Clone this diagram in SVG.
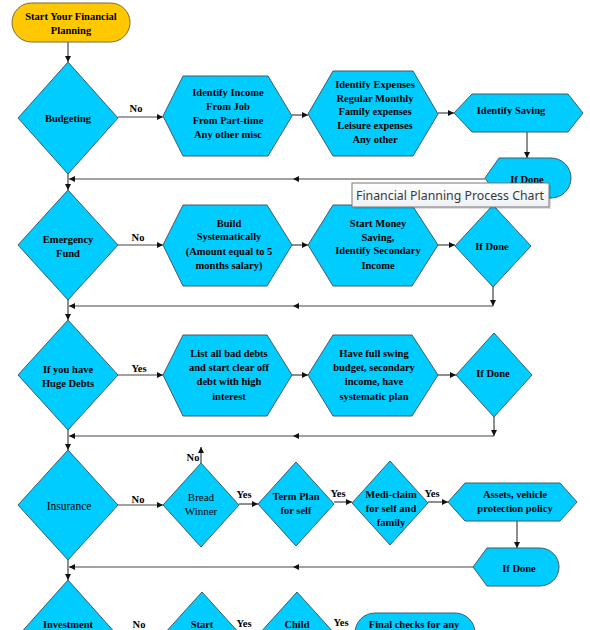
<svg xmlns="http://www.w3.org/2000/svg" width="590" height="630" viewBox="0 0 590 630">
<defs>
<marker id="ah" viewBox="0 0 10 10" refX="10" refY="5" markerWidth="6" markerHeight="6" orient="auto" markerUnits="userSpaceOnUse">
<path d="M0,0 L10,5 L0,10 Z" fill="#111"/>
</marker>
<linearGradient id="tipg" x1="0" y1="0" x2="0" y2="1">
<stop offset="0" stop-color="#ffffff"/>
<stop offset="1" stop-color="#eef0f4"/>
</linearGradient>
</defs>
<style>
.n{fill:#00CCFF;stroke:#3f5d68;stroke-width:1}
.st{fill:#FFC800;stroke:#7a6a3a;stroke-width:1}
.c{fill:none;stroke:#444;stroke-width:1.2}
.a{marker-end:url(#ah)}
.m{marker-mid:url(#ah);marker-end:url(#ah)}
text{font-family:"Liberation Serif","Times New Roman",serif;font-size:10.5px;font-weight:bold;fill:#000;text-anchor:middle}
.r{font-weight:normal;font-size:11px}
.tip{font-family:"Noto Sans","Open Sans","DejaVu Sans",sans-serif;font-size:13px;font-weight:normal;fill:#3a3a3a;text-anchor:start}
</style>
<rect width="590" height="630" fill="#fff"/>

<g id="connectors">
<path class="c a" d="M68,42 L68,62"/>
<path class="c a" d="M118,117 L163,117"/>
<path class="c a" d="M292,115 L308,115"/>
<path class="c a" d="M438,113 L454,113"/>
<path class="c a" d="M527,132 L527,158"/>
<path class="c m" d="M485,179 L293,179 L69,179"/>
<path class="c a" d="M68,174 L68,190"/>
<path class="c a" d="M118,245 L163,245"/>
<path class="c a" d="M292,245 L308,245"/>
<path class="c a" d="M438,245 L455,245"/>
<path class="c a" d="M493,287 L493,306"/>
<path class="c m" d="M493,306 L293,306 L69,306"/>
<path class="c a" d="M68,300 L68,320"/>
<path class="c a" d="M118,375 L163,375"/>
<path class="c a" d="M292,375 L308,375"/>
<path class="c a" d="M438,375 L456,375"/>
<path class="c a" d="M494,417 L494,436"/>
<path class="c m" d="M494,436 L293,436 L69,436"/>
<path class="c a" d="M68,430 L68,450"/>
<path class="c a" d="M118,505 L163,505"/>
<path class="c a" d="M201,463 L201,447"/>
<path class="c a" d="M239,504 L258,504"/>
<path class="c a" d="M334,502 L352,502"/>
<path class="c a" d="M428,502 L448,502"/>
<path class="c a" d="M517,521 L517,548"/>
<path class="c m" d="M473,567 L293,567 L69,567"/>
<path class="c a" d="M68,560 L68,580"/>
<path class="c a" d="M118,636 L164,636"/>
<path class="c a" d="M240,634 L259,634"/>
<path class="c a" d="M335,634 L355,634"/>
</g>

<g id="labels">
<text x="136" y="112">No</text>
<text x="138" y="241">No</text>
<text x="139" y="372">Yes</text>
<text x="138" y="503">No</text>
<text x="193" y="461">No</text>
<text x="244" y="498">Yes</text>
<text x="338" y="497">Yes</text>
<text x="432" y="497">Yes</text>
<text x="139" y="628">No</text>
<text x="244" y="627">Yes</text>
<text x="341" y="626">Yes</text>
</g>

<g id="start">
<rect class="st" x="12" y="3" width="118" height="39" rx="19.5"/>
<text x="71" y="20">Start Your Financial</text>
<text x="71" y="34">Planning</text>
</g>

<g id="budgeting">
<polygon class="n" points="68,62 118,118 68,174 18,118"/>
<text x="68" y="122">Budgeting</text>
</g>
<g id="income">
<polygon class="n" points="163,116 183,76 268,76 292,116 268,156 183,156"/>
<text x="228" y="96">Identify Income</text>
<text x="228" y="110">From Job</text>
<text x="228" y="124">From Part-time</text>
<text x="228" y="138">Any other misc</text>
</g>
<g id="expenses">
<polygon class="n" points="308,114 333,71 413,71 438,114 413,156 333,156"/>
<text x="375" y="88">Identify Expenses</text>
<text x="375" y="102">Regular Monthly</text>
<text x="375" y="115">Family expenses</text>
<text x="375" y="129">Leisure expenses</text>
<text x="375" y="143">Any other</text>
</g>
<g id="saving">
<polygon class="n" points="454,113 472,94 568,94 583,113 568,132 472,132"/>
<text x="511" y="114">Identify Saving</text>
</g>
<g id="done1">
<path class="n" d="M485,178 L499,158 L551,158 A20,20 0 0 1 551,198 L499,198 Z"/>
<text x="527" y="183">If Done</text>
</g>

<g id="emergency">
<polygon class="n" points="68,190 118,245 68,300 18,245"/>
<text x="68" y="243">Emergency</text>
<text x="68" y="257">Fund</text>
</g>
<g id="build">
<polygon class="n" points="163,245 183,205 267,205 292,245 267,286 183,286"/>
<text x="229" y="227">Build</text>
<text x="229" y="240">Systematically</text>
<text x="229" y="255">(Amount equal to 5</text>
<text x="229" y="269">months salary)</text>
</g>
<g id="moneysaving">
<polygon class="n" points="308,245 333,205 412,205 438,245 412,286 333,286"/>
<text x="378" y="227">Start Money</text>
<text x="378" y="241">Saving,</text>
<text x="378" y="254">Identify Secondary</text>
<text x="378" y="269">Income</text>
</g>
<g id="done2">
<polygon class="n" points="493,205 531,246 493,287 455,246"/>
<text x="492" y="250">If Done</text>
</g>

<g id="debts">
<polygon class="n" points="68,320 118,375 68,430 18,375"/>
<text x="68" y="373">If you have</text>
<text x="68" y="387">Huge Debts</text>
</g>
<g id="listdebts">
<polygon class="n" points="163,375 183,335 267,335 292,375 267,416 183,416"/>
<text x="229" y="357">List all bad debts</text>
<text x="229" y="371">and start clear off</text>
<text x="229" y="385">debt with high</text>
<text x="229" y="400">interest</text>
</g>
<g id="swing">
<polygon class="n" points="308,375 333,335 412,335 438,375 412,416 333,416"/>
<text x="374" y="357">Have full swing</text>
<text x="374" y="371">budget, secondary</text>
<text x="374" y="385">income, have</text>
<text x="374" y="400">systematic plan</text>
</g>
<g id="done3">
<polygon class="n" points="494,333 532,375 494,417 456,375"/>
<text x="493" y="377">If Done</text>
</g>

<g id="insurance">
<polygon class="n" points="68,450 118,505 68,560 18,505"/>
<text class="r" x="69" y="510" style="font-size:11.5px">Insurance</text>
</g>
<g id="breadwinner">
<polygon class="n" points="201,463 239,505 201,547 163,505"/>
<text class="r" x="201" y="501">Bread</text>
<text class="r" x="201" y="515">Winner</text>
</g>
<g id="termplan">
<polygon class="n" points="296,462 334,504 296,546 258,504"/>
<text x="296" y="500">Term Plan</text>
<text x="296" y="514">for self</text>
</g>
<g id="mediclaim">
<polygon class="n" points="390,461 428,503 390,545 352,503"/>
<text x="391" y="498">Medi-claim</text>
<text x="391" y="512">for self and</text>
<text x="391" y="526">family</text>
</g>
<g id="assets">
<polygon class="n" points="448,502 465,483 560,483 577,502 560,521 465,521"/>
<text x="515" y="498">Assets, vehicle</text>
<text x="515" y="512">protection policy</text>
</g>
<g id="done4">
<path class="n" d="M473,567 L487,548 L540,548 A19,19 0 0 1 540,586 L487,586 Z"/>
<text x="519" y="572">If Done</text>
</g>

<g id="investment">
<polygon class="n" points="68,580 118,636 68,692 18,636"/>
<text x="68" y="628">Investment</text>
</g>
<g id="startinv">
<polygon class="n" points="202,592 240,634 202,676 164,634"/>
<text x="202" y="628">Start</text>
</g>
<g id="child">
<polygon class="n" points="297,592 335,634 297,676 259,634"/>
<text x="297" y="628">Child</text>
</g>
<g id="final">
<rect class="n" x="355" y="613" width="120" height="40" rx="20"/>
<text x="414" y="628">Final checks for any</text>
</g>

<g id="tooltip">
<rect x="354" y="185" width="197" height="24" fill="#000" opacity="0.12"/>
<rect x="352" y="183" width="197" height="24" fill="url(#tipg)" stroke="#767676" stroke-width="1"/>
<text class="tip" x="356" y="200" textLength="188" lengthAdjust="spacingAndGlyphs">Financial Planning Process Chart</text>
</g>
</svg>
